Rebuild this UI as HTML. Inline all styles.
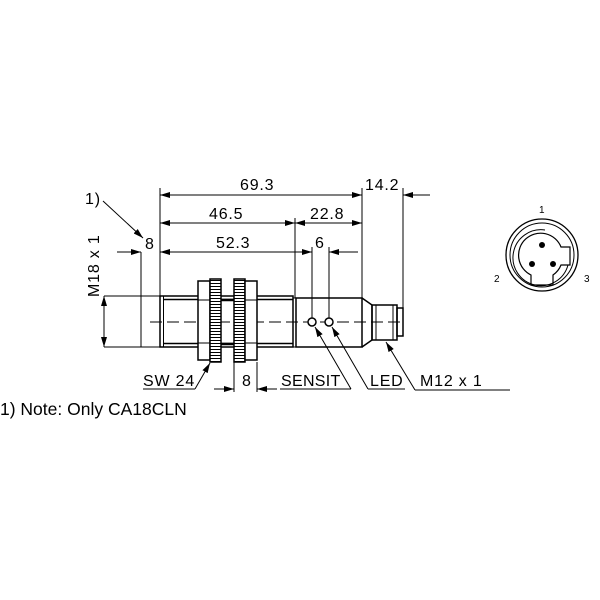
<!DOCTYPE html>
<html><head><style>
html,body{margin:0;padding:0;background:#fff;}
svg{display:block;}
text{font-family:"Liberation Sans",sans-serif;fill:#000;}
</style></head><body>
<svg width="600" height="600" viewBox="0 0 600 600" xmlns="http://www.w3.org/2000/svg">
<defs>
<marker id="a" viewBox="0 0 10 6" refX="10" refY="3" markerWidth="10" markerHeight="6" orient="auto-start-reverse" markerUnits="userSpaceOnUse"><path d="M0,0 L10,3 L0,6z" fill="#000"/></marker>
<pattern id="k" width="4" height="3" patternUnits="userSpaceOnUse"><rect width="4" height="3" fill="#fff"/><line x1="0" y1="1.5" x2="4" y2="1.5" stroke="#000" stroke-width="1"/></pattern>
</defs>
<g stroke="#000" stroke-width="1" fill="none">
<line x1="160" y1="188" x2="160" y2="296"/>
<line x1="141" y1="252" x2="141" y2="347"/>
<line x1="362" y1="188" x2="362" y2="298"/>
<line x1="403" y1="188" x2="403" y2="308"/>
<line x1="295" y1="218" x2="295" y2="298"/>
<line x1="312" y1="247" x2="312" y2="318"/>
<line x1="329" y1="247" x2="329" y2="318"/>
<line x1="104" y1="296" x2="160" y2="296"/>
<line x1="104" y1="347" x2="160" y2="347"/>
<line x1="234" y1="362" x2="234" y2="392"/>
<line x1="257" y1="362" x2="257" y2="392"/>
<line x1="160" y1="195" x2="362" y2="195" marker-start="url(#a)" marker-end="url(#a)"/>
<line x1="403" y1="195" x2="430" y2="195"/>
<line x1="347" y1="195" x2="362" y2="195"/>
<line x1="418" y1="195" x2="403" y2="195" marker-end="url(#a)"/>
<line x1="160" y1="223" x2="295" y2="223" marker-start="url(#a)" marker-end="url(#a)"/>
<line x1="295" y1="223" x2="362" y2="223" marker-start="url(#a)" marker-end="url(#a)"/>
<line x1="117" y1="252" x2="141" y2="252" marker-end="url(#a)"/>
<line x1="160" y1="252" x2="312" y2="252" marker-start="url(#a)" marker-end="url(#a)"/>
<line x1="297" y1="252" x2="312" y2="252"/>
<line x1="344" y1="252" x2="329" y2="252" marker-end="url(#a)"/>
<line x1="329" y1="252" x2="358" y2="252"/>
<line x1="104" y1="296" x2="104" y2="347" marker-start="url(#a)" marker-end="url(#a)"/>
<line x1="214" y1="389" x2="234" y2="389" marker-end="url(#a)"/>
<line x1="277" y1="389" x2="257" y2="389" marker-end="url(#a)"/>
<line x1="103" y1="201" x2="143" y2="238" marker-end="url(#a)"/>
<line x1="143" y1="389" x2="195" y2="389"/>
<line x1="195" y1="389" x2="210" y2="363" marker-end="url(#a)"/>
<line x1="280" y1="389" x2="351" y2="389"/>
<line x1="351" y1="389" x2="315" y2="327" marker-end="url(#a)"/>
<line x1="368" y1="389" x2="332" y2="327" marker-end="url(#a)"/>
<line x1="368" y1="389" x2="405" y2="389"/>
<line x1="415" y1="390" x2="510" y2="390"/>
<line x1="415" y1="390" x2="386" y2="342" marker-end="url(#a)"/>
<rect x="160" y="296" width="133" height="51" stroke-width="1.5"/>
<line x1="163.5" y1="296" x2="163.5" y2="347"/>
<line x1="163" y1="299.5" x2="293" y2="299.5" stroke-width="1.5"/>
<line x1="163" y1="343.5" x2="293" y2="343.5" stroke-width="1.5"/>
<rect x="293" y="298" width="3" height="49"/>
<rect x="296" y="298" width="66" height="49" stroke-width="1.5"/>
<path d="M362,298 L372,305 L372,340 L362,347" stroke-width="1.5"/>
<rect x="372" y="305" width="25" height="35" stroke-width="1.5"/>
<line x1="376" y1="305" x2="376" y2="340"/>
<line x1="393" y1="305" x2="393" y2="340"/>
<rect x="397" y="308" width="6" height="28" stroke-width="1.5"/>
<line x1="150" y1="322" x2="400" y2="322" stroke-dasharray="12,5"/>
<circle cx="312" cy="322" r="4" fill="#fff" stroke-width="1.5"/>
<circle cx="329" cy="322" r="4" fill="#fff" stroke-width="1.5"/>
<rect x="198" y="281" width="12" height="79" fill="#fff" stroke-width="1.5"/>
<rect x="210" y="279" width="11" height="83" fill="url(#k)" stroke-width="1.5"/>
<rect x="234" y="279" width="11" height="83" fill="url(#k)" stroke-width="1.5"/>
<rect x="245" y="281" width="12" height="79" fill="#fff" stroke-width="1.5"/>
<line x1="198" y1="300" x2="210" y2="300"/><line x1="198" y1="343" x2="210" y2="343"/>
<line x1="245" y1="300" x2="257" y2="300"/><line x1="245" y1="343" x2="257" y2="343"/>
<line x1="221" y1="300" x2="234" y2="300" stroke-width="2.5"/>
<line x1="221" y1="344" x2="234" y2="344" stroke-width="2.5"/>
<circle cx="542" cy="255" r="36" stroke-width="1.3"/>
<circle cx="542" cy="255" r="32"/>
<path d="M545,230 A28,28 0 1 0 568,265" />
<path d="M531,275 L531,285 L553,285 L553,275 A22,22 0 0 0 561,265 L570,265 L570,247 L561,247 A22,22 0 1 0 531,275 Z" stroke-width="1.2"/>
</g>
<circle cx="542" cy="245" r="3" fill="#000"/>
<circle cx="532" cy="264" r="3" fill="#000"/>
<circle cx="553" cy="264" r="3" fill="#000"/>
<g font-size="16" letter-spacing="0.8">
<text x="240" y="190">69.3</text>
<text x="365" y="190">14.2</text>
<text x="209" y="219">46.5</text>
<text x="310" y="219">22.8</text>
<text x="216" y="248">52.3</text>
<text x="315" y="248">6</text>
<text x="145" y="249">8</text>
<text x="85" y="204">1)</text>
<text x="242" y="386">8</text>
<text x="143" y="386">SW 24</text>
<text x="281" y="386" letter-spacing="0.3">SENSIT</text>
<text x="370" y="386">LED</text>
<text x="420" y="386">M12 x 1</text>
<text transform="translate(99,297) rotate(-90)">M18 x 1</text>
</g>
<text x="0" y="415" font-size="17.5">1) Note: Only CA18CLN</text>
<g font-size="10"><text x="539" y="213">1</text><text x="494" y="282">2</text><text x="584" y="282">3</text></g>
</svg>
</body></html>
